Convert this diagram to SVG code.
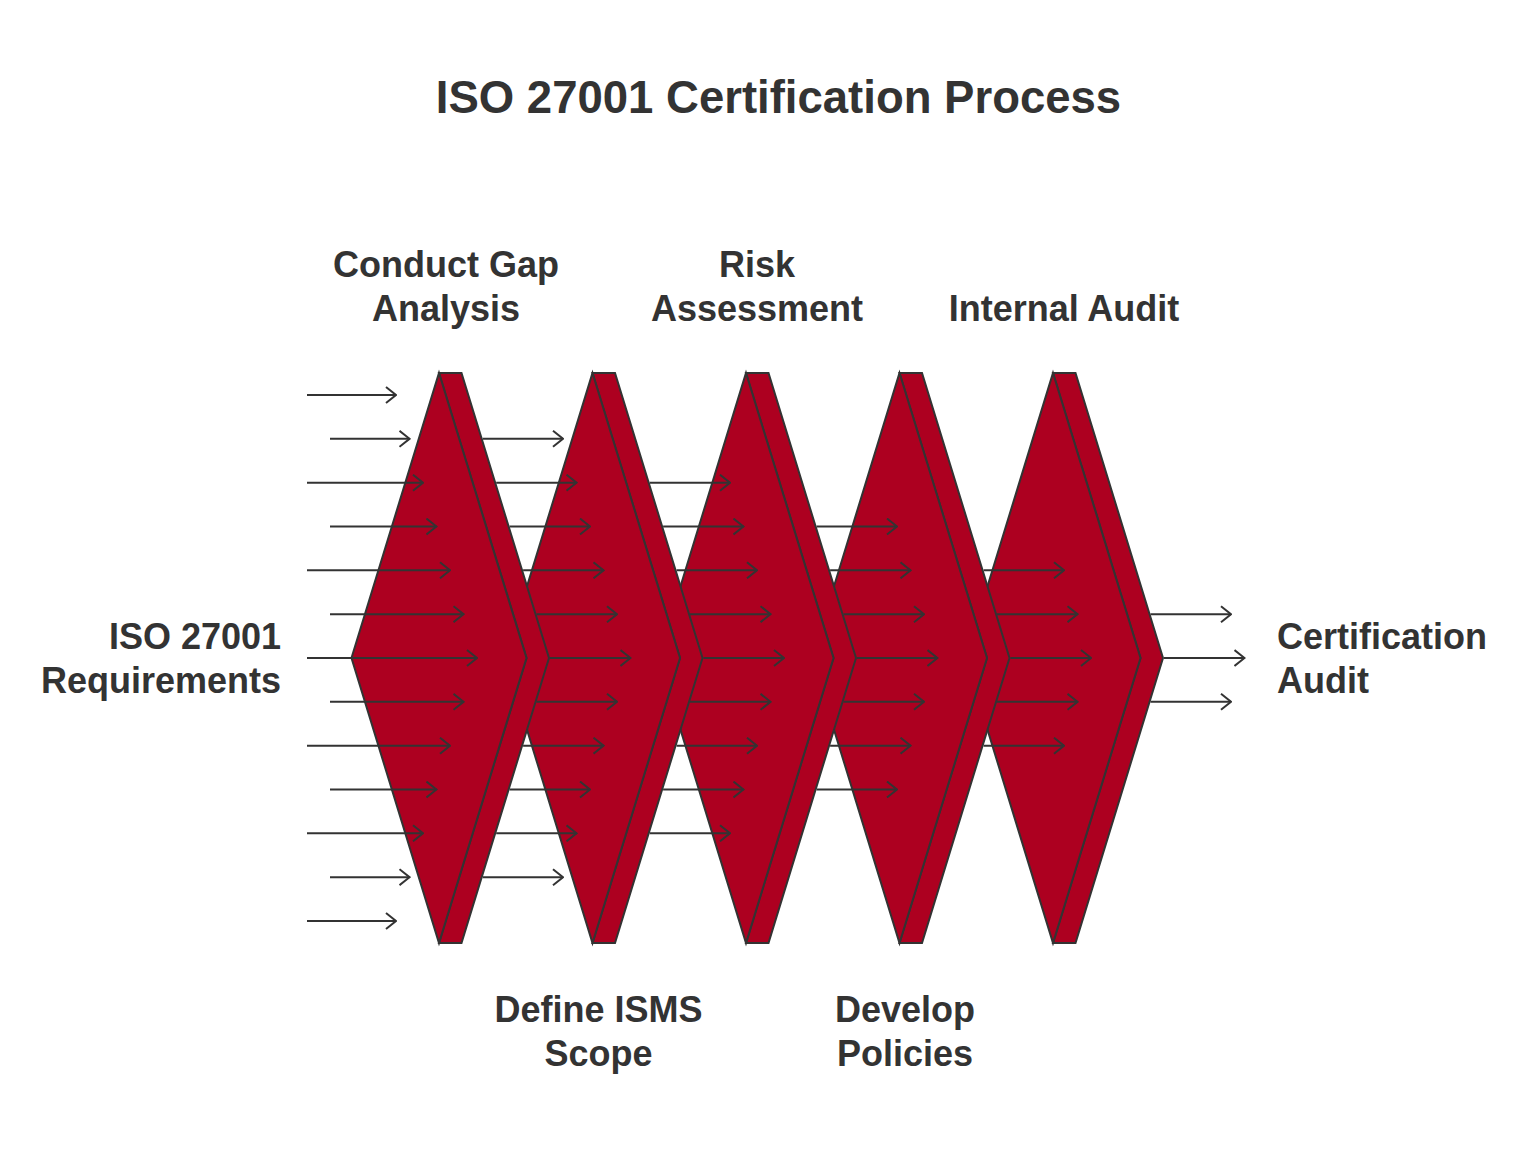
<svg xmlns="http://www.w3.org/2000/svg" width="1536" height="1164" viewBox="0 0 1536 1164">
<defs>
<style>
.bg{fill:#ffffff}
.shape{fill:#AD0020;stroke:#333333;stroke-width:2;stroke-linejoin:miter}
.t{font-family:"Liberation Sans",Arial,sans-serif;font-weight:bold;fill:#333333}
.title{font-size:45.5px}
.lbl{font-size:36px}
.c{text-anchor:middle}
.r{text-anchor:end}
.l{text-anchor:start}
.arr{stroke:#333333;stroke-width:2;fill:none;marker-end:url(#ah)}
</style>
<marker id="ah" viewBox="0 0 12 18" refX="11" refY="9" markerWidth="12" markerHeight="18" markerUnits="userSpaceOnUse" orient="auto">
<path d="M1,1 L11,9 L1,17" fill="none" stroke="#333333" stroke-width="2"/>
</marker>
</defs>
<rect class="bg" x="0" y="0" width="1536" height="1164"/>
<text class="t title c" x="778.5" y="113">ISO 27001 Certification Process</text>

<g id="stage5">
<polygon class="shape" points="1053,373 1075.5,373 1163,658 1075.5,943 1053,943 1140.5,658"/>
<polygon class="shape" points="1053,373 1140.5,658 1053,943 965.5,658"/>
</g>
<g id="stage4">
<polygon class="shape" points="899.5,373 922,373 1009.5,658 922,943 899.5,943 987,658"/>
<polygon class="shape" points="899.5,373 987,658 899.5,943 812,658"/>
</g>
<g id="stage3">
<polygon class="shape" points="746,373 768.5,373 856,658 768.5,943 746,943 833.5,658"/>
<polygon class="shape" points="746,373 833.5,658 746,943 658.5,658"/>
</g>
<g id="stage2">
<polygon class="shape" points="592.5,373 615,373 702.5,658 615,943 592.5,943 680,658"/>
<polygon class="shape" points="592.5,373 680,658 592.5,943 505,658"/>
</g>
<g id="stage1">
<polygon class="shape" points="439,373 461.5,373 549,658 461.5,943 439,943 526.5,658"/>
<polygon class="shape" points="439,373 526.5,658 439,943 351.5,658"/>
</g>

<g id="connectors">
<!-- into stage 1 -->
<line class="arr" x1="307" y1="395" x2="396" y2="395"/>
<line class="arr" x1="330" y1="438.8" x2="409.5" y2="438.8"/>
<line class="arr" x1="307" y1="482.7" x2="423" y2="482.7"/>
<line class="arr" x1="330" y1="526.5" x2="436.5" y2="526.5"/>
<line class="arr" x1="307" y1="570.3" x2="450" y2="570.3"/>
<line class="arr" x1="330" y1="614.2" x2="463.5" y2="614.2"/>
<line class="arr" x1="307" y1="658" x2="477" y2="658"/>
<line class="arr" x1="330" y1="701.8" x2="463.5" y2="701.8"/>
<line class="arr" x1="307" y1="745.7" x2="450" y2="745.7"/>
<line class="arr" x1="330" y1="789.5" x2="436.5" y2="789.5"/>
<line class="arr" x1="307" y1="833.3" x2="423" y2="833.3"/>
<line class="arr" x1="330" y1="877.2" x2="409.5" y2="877.2"/>
<line class="arr" x1="307" y1="921" x2="396" y2="921"/>
<!-- into stage 2 -->
<line class="arr" x1="482.7" y1="438.8" x2="563" y2="438.8"/>
<line class="arr" x1="496.2" y1="482.7" x2="576.5" y2="482.7"/>
<line class="arr" x1="509.6" y1="526.5" x2="590" y2="526.5"/>
<line class="arr" x1="523.1" y1="570.3" x2="603.5" y2="570.3"/>
<line class="arr" x1="536.5" y1="614.2" x2="617" y2="614.2"/>
<line class="arr" x1="550" y1="658" x2="630.5" y2="658"/>
<line class="arr" x1="536.5" y1="701.8" x2="617" y2="701.8"/>
<line class="arr" x1="523.1" y1="745.7" x2="603.5" y2="745.7"/>
<line class="arr" x1="509.6" y1="789.5" x2="590" y2="789.5"/>
<line class="arr" x1="496.2" y1="833.3" x2="576.5" y2="833.3"/>
<line class="arr" x1="482.7" y1="877.2" x2="563" y2="877.2"/>
<!-- into stage 3 -->
<line class="arr" x1="649.7" y1="482.7" x2="730" y2="482.7"/>
<line class="arr" x1="663.1" y1="526.5" x2="743.5" y2="526.5"/>
<line class="arr" x1="676.6" y1="570.3" x2="757" y2="570.3"/>
<line class="arr" x1="690" y1="614.2" x2="770.5" y2="614.2"/>
<line class="arr" x1="703.5" y1="658" x2="784" y2="658"/>
<line class="arr" x1="690" y1="701.8" x2="770.5" y2="701.8"/>
<line class="arr" x1="676.6" y1="745.7" x2="757" y2="745.7"/>
<line class="arr" x1="663.1" y1="789.5" x2="743.5" y2="789.5"/>
<line class="arr" x1="649.7" y1="833.3" x2="730" y2="833.3"/>
<!-- into stage 4 -->
<line class="arr" x1="816.6" y1="526.5" x2="897" y2="526.5"/>
<line class="arr" x1="830.1" y1="570.3" x2="910.5" y2="570.3"/>
<line class="arr" x1="843.5" y1="614.2" x2="924" y2="614.2"/>
<line class="arr" x1="857" y1="658" x2="937.5" y2="658"/>
<line class="arr" x1="843.5" y1="701.8" x2="924" y2="701.8"/>
<line class="arr" x1="830.1" y1="745.7" x2="910.5" y2="745.7"/>
<line class="arr" x1="816.6" y1="789.5" x2="897" y2="789.5"/>
<!-- into stage 5 -->
<line class="arr" x1="983.6" y1="570.3" x2="1064" y2="570.3"/>
<line class="arr" x1="997" y1="614.2" x2="1077.5" y2="614.2"/>
<line class="arr" x1="1010.5" y1="658" x2="1091" y2="658"/>
<line class="arr" x1="997" y1="701.8" x2="1077.5" y2="701.8"/>
<line class="arr" x1="983.6" y1="745.7" x2="1064" y2="745.7"/>
<!-- output -->
<line class="arr" x1="1150.5" y1="614.2" x2="1231" y2="614.2"/>
<line class="arr" x1="1164" y1="658" x2="1244.5" y2="658"/>
<line class="arr" x1="1150.5" y1="701.8" x2="1231" y2="701.8"/>
</g>

<g id="labels">
<text class="t lbl r" x="281" y="649">ISO 27001</text>
<text class="t lbl r" x="281" y="693">Requirements</text>
<text class="t lbl l" x="1277" y="649">Certification</text>
<text class="t lbl l" x="1277" y="693">Audit</text>
<text class="t lbl c" x="446" y="277">Conduct Gap</text>
<text class="t lbl c" x="446" y="321">Analysis</text>
<text class="t lbl c" x="757" y="277">Risk</text>
<text class="t lbl c" x="757" y="321">Assessment</text>
<text class="t lbl c" x="1064" y="321">Internal Audit</text>
<text class="t lbl c" x="598.5" y="1022">Define ISMS</text>
<text class="t lbl c" x="598.5" y="1066">Scope</text>
<text class="t lbl c" x="905" y="1022">Develop</text>
<text class="t lbl c" x="905" y="1066">Policies</text>
</g>
</svg>
